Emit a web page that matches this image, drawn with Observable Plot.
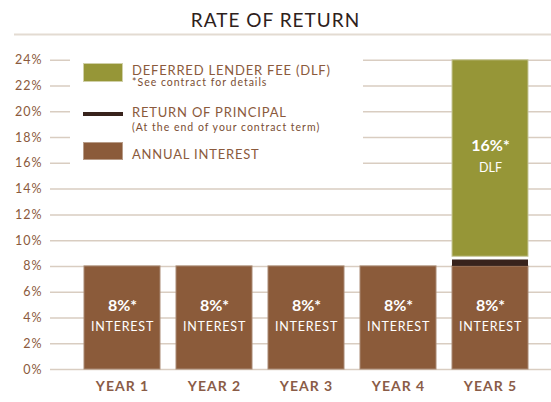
<!DOCTYPE html>
<html>
<head>
<meta charset="utf-8">
<script src="https://cdn.jsdelivr.net/npm/d3@7"></script>
<script src="https://cdn.jsdelivr.net/npm/@observablehq/plot@0.6"></script>
<style>
  body { margin: 0; background: #fff; }
  #wrap { position: relative; width: 551px; height: 402px; font-family: Lato, sans-serif; overflow: hidden; }
  #title { position: absolute; left: 0; width: 551px; top: 10px; text-align: center; font-size: 19px; line-height: 1; color: #2e211b; letter-spacing: 1px; }
  #chart { position: absolute; left: 0; top: 28px; }
  #legend { position: absolute; left: 70px; top: 50px; width: 293px; height: 122px; background: #fff; }
  .sw { position: absolute; left: 13px; width: 40px; }
  .lt { position: absolute; left: 62px; line-height: 1; white-space: nowrap; }
  .main { font-size: 13px; color: #8b5a3c; letter-spacing: 0.8px; }
  .sub { font-size: 10.5px; color: #7a4e33; letter-spacing: 1px; }
  [aria-label="y-axis tick label"] text { letter-spacing: 1px; }
  [aria-label="x-axis tick label"] text { letter-spacing: 1px; }
  .lbl text { letter-spacing: 0.8px; }
</style>
</head>
<body>
<div id="wrap">
  <div id="title">RATE OF RETURN</div>
  <div id="chart"></div>
  <div id="legend"></div>
</div>
<script>
// ---- data ----
const years = ["YEAR 1", "YEAR 2", "YEAR 3", "YEAR 4", "YEAR 5"];
const interest = [8, 8, 8, 8, 8];
const principalBottom = [null, null, null, null, 8];
const principalTop = [null, null, null, null, 8.5];
const dlfBottom = [null, null, null, null, 8.75];
const dlfTop = [null, null, null, null, 24];
const interestLabel = ["8%*", "8%*", "8%*", "8%*", "8%*"];
const interestName = ["INTEREST", "INTEREST", "INTEREST", "INTEREST", "INTEREST"];
const dlfLabel = [null, null, null, null, "16%*"];
const dlfName = [null, null, null, null, "DLF"];
const yTicks = [0, 2, 4, 6, 8, 10, 12, 14, 16, 18, 20, 22, 24];
const yTop = 26;
const legendItems = [
  { name: "DEFERRED LENDER FEE (DLF)", note: "*See contract for details" },
  { name: "RETURN OF PRINCIPAL", note: "(At the end of your contract term)" },
  { name: "ANNUAL INTEREST", note: "" }
];

const colors = { interest: "#8b5b3a", principal: "#38231c", dlf: "#969637" };

const rows = years.map((y, i) => ({
  year: y, interest: interest[i],
  pb: principalBottom[i], pt: principalTop[i],
  db: dlfBottom[i], dt: dlfTop[i],
  il: interestLabel[i], iname: interestName[i],
  dl: dlfLabel[i], dname: dlfName[i]
}));
const pRows = rows.filter(d => d.pt != null);
const dRows = rows.filter(d => d.dt != null);

const chart = Plot.plot({
  width: 551, height: 374,
  marginTop: 6, marginBottom: 33, marginLeft: 50, marginRight: 0,
  style: { fontFamily: "Lato, sans-serif", background: "transparent" },
  x: { domain: years, paddingInner: 0.178, paddingOuter: 0.297, align: 0.6 },
  y: { domain: [0, yTop] },
  marks: [
    Plot.ruleY(yTicks, { stroke: "#d9cdc1", strokeWidth: 1.5 }),
    Plot.ruleY([yTop], { stroke: "#e3dbd2", strokeWidth: 2, insetLeft: -36 }),
    Plot.axisY({ ticks: yTicks, tickSize: 0, tickPadding: 8, tickFormat: d => d + "%",
      fontSize: 12.5, fill: "#8b5a3c", line: true, stroke: "#e2d9cf", strokeWidth: 2, label: null }),
    Plot.axisX({ tickSize: 0, tickPadding: 12, fontSize: 14, fontWeight: "bold", fill: "#8a5c47", label: null }),
    Plot.barY(rows, { x: "year", y1: 0, y2: "interest", fill: colors.interest, stroke: "#a98a74", strokeWidth: 1 }),
    Plot.barY(pRows, { x: "year", y1: "pb", y2: "pt", fill: colors.principal }),
    Plot.barY(dRows, { x: "year", y1: "db", y2: "dt", fill: colors.dlf, stroke: "#c7c79a", strokeWidth: 1 }),
    Plot.text(rows, { x: "year", y: d => d.interest / 2, text: "il", dy: -12, fill: "white", fontSize: 16, fontWeight: "bold" }),
    Plot.text(rows, { x: "year", y: d => d.interest / 2, text: "iname", dy: 9, fill: "white", fontSize: 12.5, className: "lbl" }),
    Plot.text(dRows, { x: "year", y: d => (d.db + d.dt) / 2, text: "dl", dy: -13, fill: "white", fontSize: 16, fontWeight: "bold" }),
    Plot.text(dRows, { x: "year", y: d => (d.db + d.dt) / 2, text: "dname", dy: 9, fill: "white", fontSize: 12.5 })
  ]
});
document.getElementById("chart").appendChild(chart);

// legend
const lg = document.getElementById("legend");
const swatches = [
  { top: 13, h: 19, color: colors.dlf, border: "1px solid #d0d0a8" },
  { top: 62, h: 4, color: colors.principal, border: "none" },
  { top: 92, h: 18, color: colors.interest, border: "1px solid #b89c88" }
];
const nameTops = [13.5, 55.8, 97.8];
const noteTops = [27.4, 72.4, null];
legendItems.forEach((it, i) => {
  const s = document.createElement("div");
  s.className = "sw";
  s.style.top = swatches[i].top + "px";
  s.style.height = swatches[i].h + "px";
  s.style.background = swatches[i].color;
  s.style.boxSizing = "border-box";
  s.style.border = swatches[i].border;
  lg.appendChild(s);
  const t = document.createElement("div");
  t.className = "lt main";
  t.style.top = nameTops[i] + "px";
  t.textContent = it.name;
  lg.appendChild(t);
  if (it.note) {
    const n = document.createElement("div");
    n.className = "lt sub";
    n.style.top = noteTops[i] + "px";
    n.textContent = it.note;
    lg.appendChild(n);
  }
});
</script>
</body>
</html>
